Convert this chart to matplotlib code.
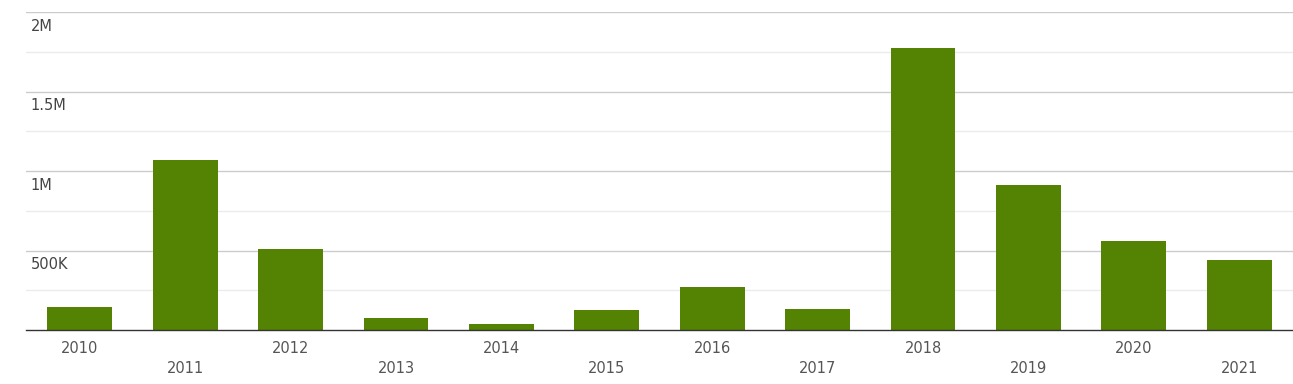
import matplotlib.pyplot as plt
import numpy as np

years = ['2010', '2011', '2012', '2013', '2014', '2015',
         '2016', '2017', '2018', '2019', '2020', '2021']
values = [145000, 1069000, 509000, 75000, 38000, 126000,
          270000, 132000, 1774000, 912000, 560000, 440000]
y_ticks = [500000, 1000000, 1500000, 2000000]
y_labels = ['500K', '1M', '1.5M', '2M']
minor_ticks = [250000, 750000, 1250000, 1750000]

W, H = 1293, 384
fig = plt.figure(figsize=(W / 100, H / 100), dpi=100)
ax = fig.add_axes([26 / W, (H - 330) / H, (W - 26) / W, 318 / H])

x = np.arange(len(years))
ax.bar(x, values, width=0.615, color='#548203', zorder=3)

ax.set_xlim(-0.51, len(years) - 0.49)
ax.set_ylim(0, 2000000)

# gridlines
for t in y_ticks:
    ax.axhline(t, color='#cccccc', lw=1, zorder=1)
for t in minor_ticks:
    ax.axhline(t, color='#ebebeb', lw=1, zorder=1)

# y labels sit inside the plot, just under each gridline
for t, lab in zip(y_ticks, y_labels):
    ax.annotate(lab, xy=(0, t), xycoords=('axes fraction', 'data'),
                xytext=(3.5, -5), textcoords='offset points',
                ha='left', va='top', fontsize=10.5, color='#444444')

ax.set_yticks([])
ax.set_xticks(x)
ax.set_xticklabels([])
ax.tick_params(axis='x', length=0)
for i, yr in enumerate(years):
    off = -13 if i % 2 == 0 else -28
    ax.annotate(yr, xy=(i, 0), xycoords=('data', 'data'),
                xytext=(0, off), textcoords='offset points',
                ha='center', va='center', fontsize=10.5, color='#555555')

for s in ['top', 'right', 'left']:
    ax.spines[s].set_visible(False)
ax.spines['bottom'].set_color('#333333')
ax.spines['bottom'].set_linewidth(1)
ax.spines['bottom'].set_zorder(4)

fig.savefig('out.png', dpi=100)
